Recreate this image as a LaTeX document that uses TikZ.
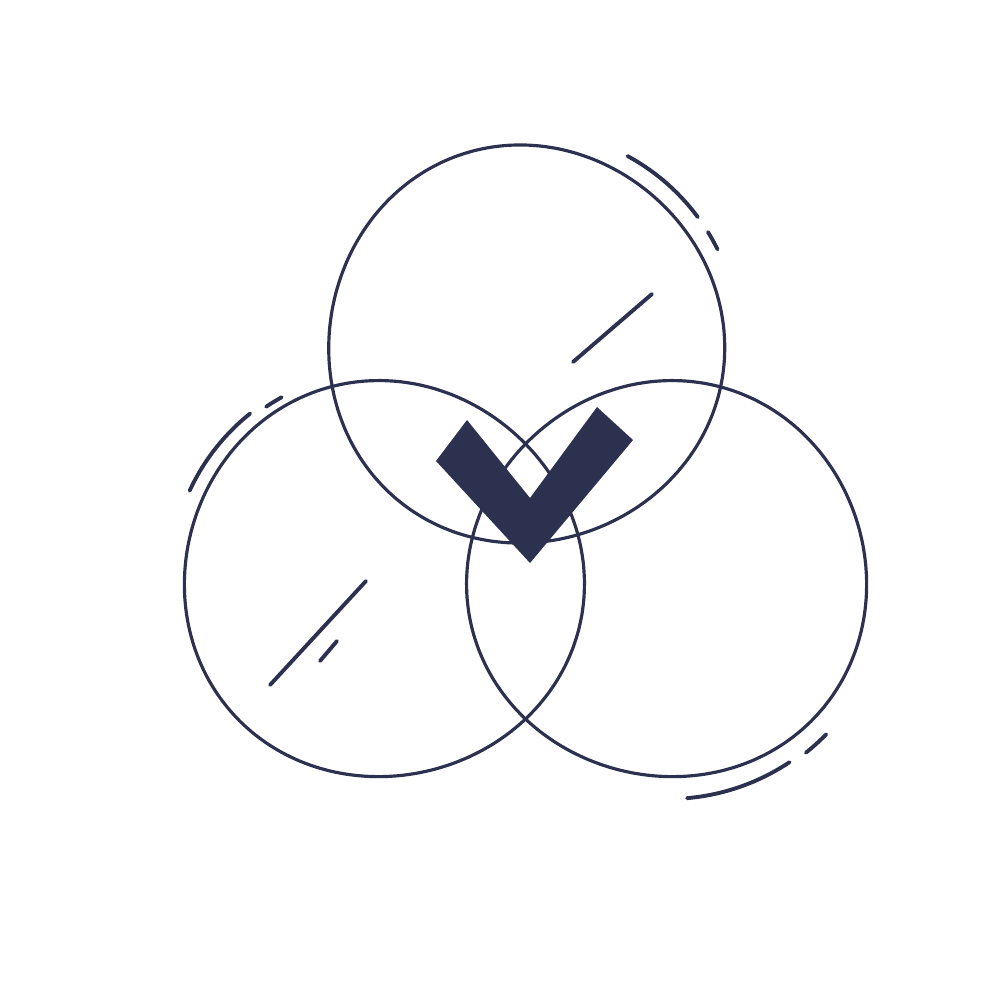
\documentclass[tikz,border=0pt]{standalone}
\usetikzlibrary{calc}
\definecolor{ink}{HTML}{2C3150}

\begin{document}
\begin{tikzpicture}[x=0.01cm,y=-0.01cm,
        ring/.style={draw=ink,line width=0.9pt,line join=round,smooth cycle,domain=0:355,samples=72},
        accent/.style={draw=ink,line width=1.1pt,line cap=round,smooth},
        tick/.style={fill=ink,draw=none}]
        \useasboundingbox (0,0) rectangle (1000,1000);
        % the three rings
        \draw[ring] plot ({525+(198+2*cos(3*\x+30))*cos(\x)},{345-(199+2*cos(3*\x+30))*sin(\x)});
        \draw[ring] plot ({383+(200+2*cos(3*(\x-225)))*cos(\x)},{580-(198+2*cos(3*(\x-225)))*sin(\x)});
        \draw[ring] plot ({668+(200+2*cos(3*(\x+45)))*cos(\x)},{580-(198+2*cos(3*(\x+45)))*sin(\x)});
        % highlights
        \draw[accent] plot[domain=36.5:61.5,samples=12] ({525+215*cos(\x)},{345-215*sin(\x)});
        \draw[accent] plot[domain=26.4:31.7,samples=5] ({525+215*cos(\x)},{345-215*sin(\x)});
        \draw[accent] plot[domain=128.6:155.2,samples=12] ({383+213*cos(\x)},{580-213*sin(\x)});
        \draw[accent] plot[domain=119:124,samples=5] ({383+209*cos(\x)},{580-209*sin(\x)});
        \draw[accent] plot[domain=-85:-56.3,samples=12] ({668+219*cos(\x)},{580-219*sin(\x)});
        \draw[accent] plot[domain=-51.4:-44.3,samples=5] ({668+221*cos(\x)},{580-221*sin(\x)});
        \draw[accent] (573,362) -- (652,294);
        \draw[accent] (270,685) -- (366,581);
        \draw[accent] (320,661) -- (337,641);
        % check mark
        \fill[tick] (467,420) -- (530,498) -- (597,407) -- (633,440) -- (530,563) -- (436,461) -- cycle;
      \end{tikzpicture}
\end{document}
